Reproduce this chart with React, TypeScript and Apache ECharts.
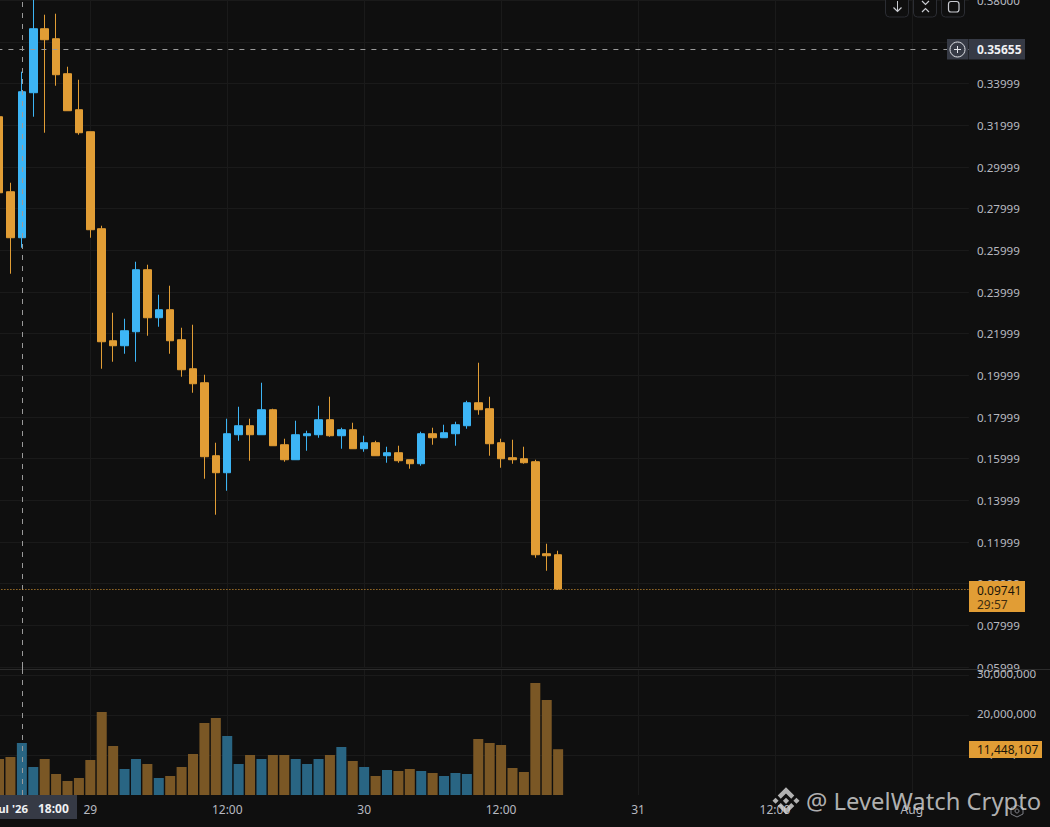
import React, { useEffect, useRef } from "react";
import * as echarts from "echarts";

const hours = [-8,-7,-6,-5,-4,-3,-2,-1,0,1,2,3,4,5,6,7,8,9,10,11,12,13,14,15,16,17,18,19,20,21,22,23,24,25,26,27,28,29,30,31,32,33,34,35,36,37,38,39,40,41];
const opens = [.32416,.28815,.26607,.33568,.3664,.3616,.3448,.32752,.31696,.27039,.21662,.21422,.22094,.25071,.22766,.23151,.2171,.20318,.19646,.16142,.15326,.1715,.17582,.1715,.1835,.1667,.1595,.17102,.1715,.1787,.17102,.1739,.16478,.16766,.16142,.16286,.1595,.15758,.17198,.17006,.17198,.17582,.18686,.18398,.16766,.16046,.15998,.15854,.11437,.11389];
const closes = [.28767,.26607,.33616,.3664,.36112,.34432,.32704,.31648,.26991,.21614,.21422,.22142,.25071,.22766,.23151,.21662,.2027,.19598,.16094,.15326,.17198,.17582,.1715,.1835,.16622,.1595,.1715,.17198,.1787,.17102,.1739,.16478,.16766,.16142,.16286,.15902,.15758,.17198,.17006,.17246,.1763,.18686,.1835,.16718,.15998,.1595,.15806,.11389,.11341,.09741];
const lows = [.2860,.24879,.26127,.32416,.31648,.33904,.32704,.31552,.26607,.20318,.20654,.21038,.20654,.21902,.22334,.21038,.19934,.19166,.15038,.1331,.14462,.16862,.15902,.1715,.16622,.15854,.1595,.16382,.17006,.17054,.16478,.16478,.16334,.16142,.15806,.15806,.15518,.15662,.1667,.17006,.16622,.17438,.1811,.16142,.15566,.15758,.15758,.11245,.10621,.0970];
const highs = [.3280,.29247,.34576,.3835,.37313,.37361,.34816,.34192,.31696,.27183,.23006,.22718,.25455,.25311,.23871,.24303,.22286,.2243,.2003,.16766,.17918,.18494,.17918,.19646,.18398,.16958,.17822,.17342,.18542,.18974,.17486,.17726,.17102,.16862,.16574,.16622,.1595,.17294,.17486,.1763,.17774,.18782,.20606,.18974,.16958,.1691,.16574,.1595,.11917,.11581];
const volumes = [9000000,9500000,13000000,7000000,9000000,5250000,3500000,4250000,8750000,20750000,12250000,6500000,9000000,7750000,4250000,4750000,7000000,10250000,18000000,19250000,14750000,7750000,10000000,9000000,10000000,10000000,9000000,7750000,9000000,10000000,12000000,8500000,7000000,4750000,6250000,6000000,6500000,6000000,5500000,4750000,5500000,5250000,14000000,13000000,12500000,6750000,5750000,28000000,23750000,11448107];

const priceTickLabels = ["0.05999","0.07999","0.09999","0.11999","0.13999","0.15999","0.17999","0.19999","0.21999","0.23999","0.25999","0.27999","0.29999","0.31999","0.33999","0.36000","0.38000"];
const xTickValues = [0, 12, 24, 36, 48, 60, 72];
const xTickLabels = ["29", "12:00", "30", "12:00", "31", "12:00", "Aug"];

const crosshairHour = -6;
const crosshairPrice = 0.35655;
const currentPrice = 0.09741;

const BG = "#0f0f0f";
const GRID = "#1a1a1a";
const BLUE = "#3db5f5";
const ORANGE = "#e19d35";
const VBLUE = "#296583";
const VORANGE = "#7a5725";
const AXIS_TEXT = "#b7b9c0";
const BADGE = "#363a45";
const FONT = '"Noto Sans", "Open Sans", sans-serif';

const logoScale = 27 / 126.61;
const logoParts = [
  [[38.73,53.2],[63.3,28.64],[87.89,53.21],[102.19,38.91],[63.3,0],[24.42,38.9]],
  [[0,63.31],[14.3,49.01],[28.6,63.31],[14.3,77.61]],
  [[48.8,63.3],[63.3,48.8],[77.8,63.3],[63.3,77.8]],
  [[98.01,63.31],[112.31,49.01],[126.61,63.31],[112.31,77.61]],
  [[38.73,73.41],[63.3,97.97],[87.89,73.4],[102.2,87.69],[63.3,126.61],[24.41,87.71]],
];

const txt = (text: string, x: number, y: number, fill: string, size = 12, weight = "normal", align = "left", z = 100) => ({
  type: "text", x, y, z, silent: true,
  style: { text, fill, font: `${weight} ${size}px ${FONT}`, textAlign: align, textVerticalAlign: "middle" },
});
const box = (x: number, y: number, w: number, h: number, fill: string, z = 99, r = 0) => ({
  type: "rect", z, silent: true, shape: { x, y, width: w, height: h, r }, style: { fill },
});
const frame = (x: number, y: number, w: number, h: number) => ({
  type: "rect", z: 100, silent: true, shape: { x, y, width: w, height: h, r: 4 },
  style: { fill: BG, stroke: "#2b2d33", lineWidth: 1 },
});
const seg = (x1: number, y1: number, x2: number, y2: number, stroke: string, lineWidth = 1, z = 101, lineDash?: number[]) => ({
  type: "line", z, silent: true, shape: { x1, y1, x2, y2 }, style: { stroke, lineWidth, lineDash },
});
const poly = (points: number[][], stroke: string) => ({
  type: "polyline", z: 101, silent: true, shape: { points }, style: { stroke, lineWidth: 1.2, fill: "none" },
});

const ICON = "#c9cbd1";
const WM = "rgba(214,214,214,0.82)";

const graphicElements: any[] = [
  seg(0, 669.5, 1050, 669.5, "#2c2c2c", 1, 98),
  seg(22.5, 667, 22.5, 670, "#9a9a9a", 1, 98),

  frame(885.5, -6, 23, 23),
  frame(913.5, -6, 23, 23),
  frame(941.5, -6, 23, 23),
  seg(897.5, 1, 897.5, 11, ICON),
  poly([[893.5, 7.5], [897.5, 11.5], [901.5, 7.5]], ICON),
  poly([[922, 1], [925.5, 4.5], [929, 1]], ICON),
  poly([[922, 12], [925.5, 8.5], [929, 12]], ICON),
  { type: "rect", z: 101, silent: true, shape: { x: 948.5, y: 1.5, width: 10.5, height: 10.5, r: 2.5 }, style: { fill: "none", stroke: ICON, lineWidth: 1.2 } },

  box(947, 39, 21.5, 20.5, BADGE),
  { type: "circle", z: 101, silent: true, shape: { cx: 957.5, cy: 49.5, r: 7.5 }, style: { fill: "none", stroke: "#e3e5ea", lineWidth: 1 } },
  seg(954, 49.5, 961, 49.5, "#e3e5ea"),
  seg(957.5, 46, 957.5, 53, "#e3e5ea"),
  box(969, 39, 56, 20.5, BADGE),
  txt("0.35655", 977, 49.5, "#f0f1f3", 12, "bold"),

  box(969, 581, 56, 31, ORANGE),
  txt("0.09741", 977, 590, "#1a1408", 12),
  txt("29:57", 977, 604, "#3e2c10", 12),

  box(969, 741, 73, 17, ORANGE),
  txt("11,448,107", 977, 749.5, "#1a1408", 12),

  box(0, 795, 77, 24, BADGE),
  txt("ul '26", 28, 808, "#f0f1f3", 11.4, "bold", "right"),
  txt("18:00", 38, 808, "#f0f1f3", 12, "bold"),

  { type: "polygon", z: 100, silent: true, shape: { points: [[1017, 805], [1023, 808], [1023, 814], [1017, 817], [1011, 814], [1011, 808]] }, style: { fill: "none", stroke: "#7d7f86", lineWidth: 1 } },
  { type: "circle", z: 100, silent: true, shape: { cx: 1017, cy: 811, r: 2 }, style: { fill: "none", stroke: "#7d7f86", lineWidth: 1 } },

  ...logoParts.map((p) => ({
    type: "polygon", z: 110, silent: true,
    shape: { points: p.map(([a, b]) => [772.5 + a * logoScale, 787.3 + b * logoScale]) },
    style: { fill: WM },
  })),
  txt("@ LevelWatch Crypto", 806, 801, WM, 23.8, "normal", "left", 110),
];

const candleData = hours.map((h, i) => [h, opens[i], closes[i], lows[i], highs[i]]);
const volumeData = hours.map((h, i) => ({
  value: [h, volumes[i]],
  itemStyle: { color: closes[i] > opens[i] ? VBLUE : VORANGE },
}));

const splitLine = { show: true, showMinLine: false, showMaxLine: false, lineStyle: { color: GRID, width: 1 } };
const crossStyle = { color: "#9a9a9a", width: 1, type: [5, 6] };

const option: any = {
  animation: false,
  backgroundColor: BG,
  textStyle: { fontFamily: FONT },
  graphic: graphicElements,
  grid: [
    { left: -46.6, width: 1015.5, top: 0.4, height: 666.6, outerBoundsMode: "none" },
    { left: -46.6, width: 1015.5, top: 670, height: 125, outerBoundsMode: "none" },
  ],
  xAxis: [
    {
      gridIndex: 0, type: "value", min: -12, max: 77, interval: 12,
      axisLine: { show: false }, axisTick: { show: false }, axisLabel: { show: false }, splitLine,
    },
    {
      gridIndex: 1, type: "value", min: -12, max: 77, interval: 12,
      axisLine: { show: false }, axisTick: { show: false }, splitLine,
      axisLabel: {
        color: AXIS_TEXT, fontSize: 12, fontFamily: FONT, margin: 8,
        showMinLabel: false, showMaxLabel: false,
        formatter: (v: number) => {
          const k = xTickValues.indexOf(v);
          return k >= 0 ? xTickLabels[k] : "";
        },
      },
    },
  ],
  yAxis: [
    {
      gridIndex: 0, type: "value", position: "right", min: 0.06, max: 0.38, interval: 0.02,
      axisLine: { show: false }, axisTick: { show: false },
      splitLine: { show: true, lineStyle: { color: GRID, width: 1 } },
      axisLabel: {
        color: AXIS_TEXT, fontSize: 11.6, fontFamily: FONT, margin: 8,
        formatter: (v: number) => priceTickLabels[Math.round((v - 0.06) / 0.02)] ?? "",
      },
    },
    {
      gridIndex: 1, type: "value", position: "right", min: 0, max: 31250000, interval: 10000000,
      axisLine: { show: false }, axisTick: { show: false },
      splitLine: { show: true, showMinLine: false, showMaxLine: false, lineStyle: { color: GRID, width: 1 } },
      axisLabel: {
        color: AXIS_TEXT, fontSize: 11.6, fontFamily: FONT, margin: 8, verticalAlign: "bottom", lineHeight: 4,
        showMinLabel: false, showMaxLabel: false,
        formatter: (v: number) => v.toLocaleString("en-US"),
      },
    },
  ],
  series: [
    {
      type: "candlestick", xAxisIndex: 0, yAxisIndex: 0, barWidth: 8, clip: false,
      itemStyle: { color: BLUE, color0: ORANGE, borderColor: BLUE, borderColor0: ORANGE, borderWidth: 1 },
      data: candleData,
      markLine: {
        silent: true, animation: false, symbol: ["none", "none"], label: { show: false }, precision: 5,
        data: [
          { yAxis: crosshairPrice, lineStyle: crossStyle },
          { xAxis: crosshairHour, lineStyle: crossStyle },
          { yAxis: currentPrice, lineStyle: { color: ORANGE, width: 1, type: [1, 2] } },
        ],
      },
    },
    {
      type: "bar", xAxisIndex: 1, yAxisIndex: 1, barWidth: 10, clip: false,
      data: volumeData,
      markLine: {
        silent: true, animation: false, symbol: ["none", "none"], label: { show: false },
        data: [{ xAxis: crosshairHour, lineStyle: crossStyle }],
      },
    },
  ],
};

export default function App() {
  const ref = useRef<HTMLDivElement>(null);
  useEffect(() => {
    const chart = echarts.init(ref.current!, undefined, { renderer: "svg" });
    chart.setOption(option);
    return () => chart.dispose();
  }, []);
  return <div ref={ref} style={{ position: "absolute", left: 0, top: 0, width: 1050, height: 827 }} />;
}
